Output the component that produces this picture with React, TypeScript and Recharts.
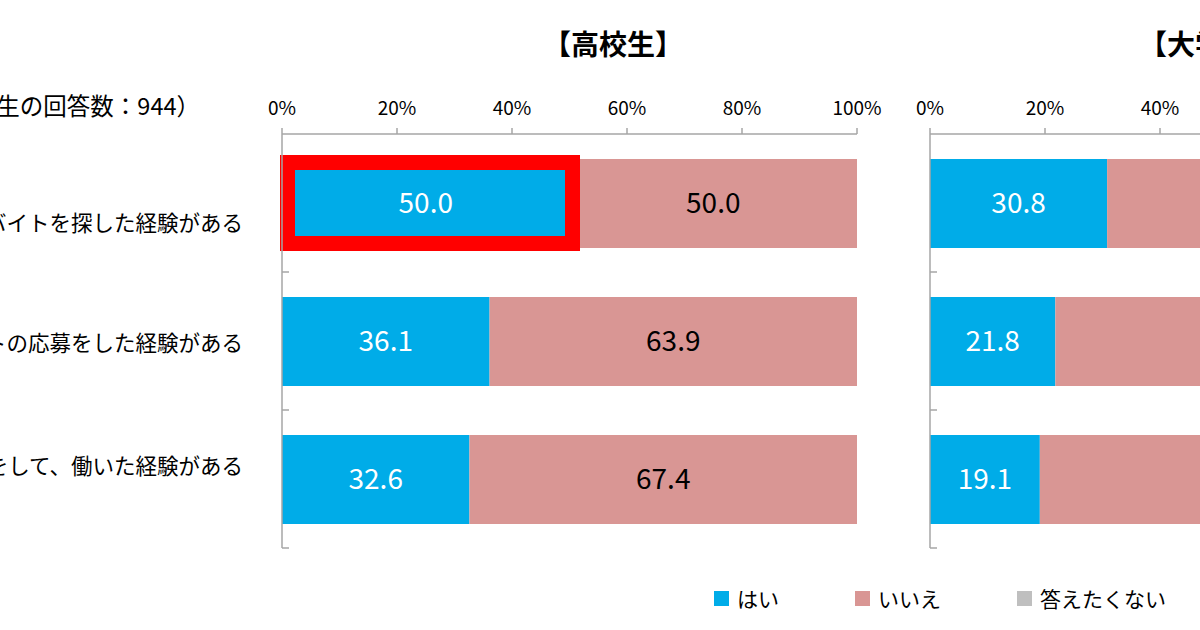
import React from 'react';
import { BarChart, Bar, XAxis, YAxis, LabelList, Legend } from 'recharts';

const categories = [
  'アルバイトを探した経験がある',
  'アルバイトの応募をした経験がある',
  'アルバイトをして、働いた経験がある',
];
const hsYes = [50.0, 36.1, 32.6];
const hsNo = [50.0, 63.9, 67.4];
const hsNone = [0, 0, 0];
const uniYes = [30.8, 21.8, 19.1];
const uniNo = [69.2, 78.2, 80.9];
const uniNone = [0, 0, 0];
const xTicks = [0, 20, 40, 60, 80, 100];
const titles = ['【高校生】', '【大学生】'];
const noteText = '（高校生の回答数：944）';
const seriesNames = ['はい', 'いいえ', '答えたくない'];

const BLUE = '#00ACE8';
const PINK = '#D99694';
const GRAY = '#BFBFBF';
const AXIS = '#A6A6A6';
const FONT = '"Noto Sans CJK JP", "Noto Sans", sans-serif';

const hsData = categories.map((c, i) => ({ cat: c, yes: hsYes[i], no: hsNo[i], none: hsNone[i] }));
const uniData = categories.map((c, i) => ({ cat: c, yes: uniYes[i], no: uniNo[i], none: uniNone[i] }));

const CHART_H = 630;
const M_TOP = 0;
const X_AXIS_H = 134;
const M_BOTTOM = 82;
const PLOT_H = CHART_H - M_TOP - X_AXIS_H - M_BOTTOM;
const BAND = PLOT_H / categories.length;
// vertical nudges of the category labels, as placed in the original
const LABEL_NUDGE = [18, 0, -15];

const makeYTick = (showLabel: boolean) => (props: any) => {
  const { x, y, payload, index } = props;
  return (
    <g>
      {showLabel && (
        <text x={x - 39} y={y + (LABEL_NUDGE[index] || 0)} textAnchor="end" dominantBaseline="central" fontSize={21.5} fill="#000" fontFamily={FONT}>
          {payload.value}
        </text>
      )}
      <line x1={x} y1={y + BAND / 2} x2={x + 7} y2={y + BAND / 2} stroke={AXIS} strokeWidth={1.5} />
    </g>
  );
};

const PinkShape = (props: any) => {
  const { x, y, width, height, index, payload, highlight } = props;
  const ppu = width / payload.no;
  const zeroX = x - payload.yes * ppu;
  const blueW = payload.yes * ppu;
  return (
    <g>
      <rect x={x} y={y} width={width} height={height} fill={PINK} />
      {highlight && index === 0 && (
        <rect x={zeroX + 5.5} y={y + 3.5} width={blueW - 2.5} height={height - 8} fill="none" stroke="#FF0000" strokeWidth={15} />
      )}
    </g>
  );
};

const LegendContent = (props: any) => {
  const payload = [...(props.payload || [])].sort(
    (a: any, b: any) => seriesNames.indexOf(a.value) - seriesNames.indexOf(b.value)
  );
  return (
    <div style={{ display: 'flex', alignItems: 'center', fontFamily: FONT, fontSize: 21, lineHeight: '28px', color: '#000' }}>
      {payload.map((p: any, i: number) => (
        <div key={i} style={{ display: 'flex', alignItems: 'center', marginRight: 76 }}>
          <div style={{ width: 15, height: 15, background: p.color, marginRight: 8 }} />
          <span style={{ whiteSpace: 'nowrap' }}>{p.value}</span>
        </div>
      ))}
    </div>
  );
};

const tickStyle = { fontSize: 19, fill: '#000', fontFamily: FONT };

function Panel(props: { data: any[]; yWidth: number; width: number; right: number; showLabels: boolean; legend: boolean; highlight: boolean }) {
  const { data, yWidth, width, right, showLabels, legend, highlight } = props;
  return (
    <BarChart
      width={width}
      height={CHART_H}
      data={data}
      layout="vertical"
      margin={{ top: M_TOP, right, bottom: M_BOTTOM, left: 0 }}
    >
      <XAxis
        type="number"
        orientation="top"
        domain={[0, 100]}
        ticks={xTicks}
        height={X_AXIS_H}
        tickFormatter={(v: number) => `${v}%`}
        axisLine={{ stroke: AXIS, strokeWidth: 1.5 }}
        tickLine={{ stroke: AXIS, strokeWidth: 1.5 }}
        tickSize={6}
        tickMargin={13}
        tick={tickStyle}
        interval={0}
      />
      <YAxis
        type="category"
        dataKey="cat"
        width={yWidth}
        axisLine={{ stroke: AXIS, strokeWidth: 1.5 }}
        tickLine={false}
        tickSize={0}
        tickMargin={0}
        tick={makeYTick(showLabels)}
        interval={0}
      />
      <Bar dataKey="yes" name={seriesNames[0]} stackId="s" fill={BLUE} barSize={89} isAnimationActive={false}>
        <LabelList dataKey="yes" position="center" fill="#FFFFFF" fontSize={28} fontFamily={FONT} formatter={(v: any) => Number(v).toFixed(1)} />
      </Bar>
      <Bar
        dataKey="no"
        name={seriesNames[1]}
        stackId="s"
        fill={PINK}
        barSize={89}
        isAnimationActive={false}
        shape={(p: any) => <PinkShape {...p} highlight={highlight} />}
      >
        <LabelList dataKey="no" position="center" fill="#000000" fontSize={28} fontFamily={FONT} formatter={(v: any) => Number(v).toFixed(1)} />
      </Bar>
      <Bar dataKey="none" name={seriesNames[2]} stackId="s" fill={GRAY} barSize={89} isAnimationActive={false} />
      {legend && (
        <Legend
          layout="horizontal"
          verticalAlign="middle"
          align="center"
          content={<LegendContent />}
          wrapperStyle={{ position: 'absolute', left: 1114, top: 584, width: 700, bottom: 'auto' }}
        />
      )}
    </BarChart>
  );
}

export default function App() {
  return (
    <div style={{ position: 'absolute', left: 0, top: 0, width: 1200, height: 630, overflow: 'hidden', background: '#fff' }}>
      <div style={{ position: 'absolute', left: -400, top: 0 }}>
        <Panel data={hsData} yWidth={682} width={1300} right={43} showLabels={true} legend={true} highlight={true} />
      </div>
      <div style={{ position: 'absolute', left: 900, top: 0 }}>
        <Panel data={uniData} yWidth={30} width={650} right={45} showLabels={false} legend={false} highlight={false} />
      </div>
      <div style={{ position: 'absolute', left: 413, top: 26, width: 400, textAlign: 'center', fontFamily: FONT, fontWeight: 700, fontSize: 28, lineHeight: '34px', color: '#000' }}>
        {titles[0]}
      </div>
      <div style={{ position: 'absolute', left: 1009, top: 26, width: 400, textAlign: 'center', fontFamily: FONT, fontWeight: 700, fontSize: 28, lineHeight: '34px', color: '#000' }}>
        {titles[1]}
      </div>
      <div style={{ position: 'absolute', right: 1200 - 200, top: 89, whiteSpace: 'nowrap', fontFamily: FONT, fontSize: 23.5, lineHeight: '32px', color: '#000' }}>
        {noteText}
      </div>
    </div>
  );
}
